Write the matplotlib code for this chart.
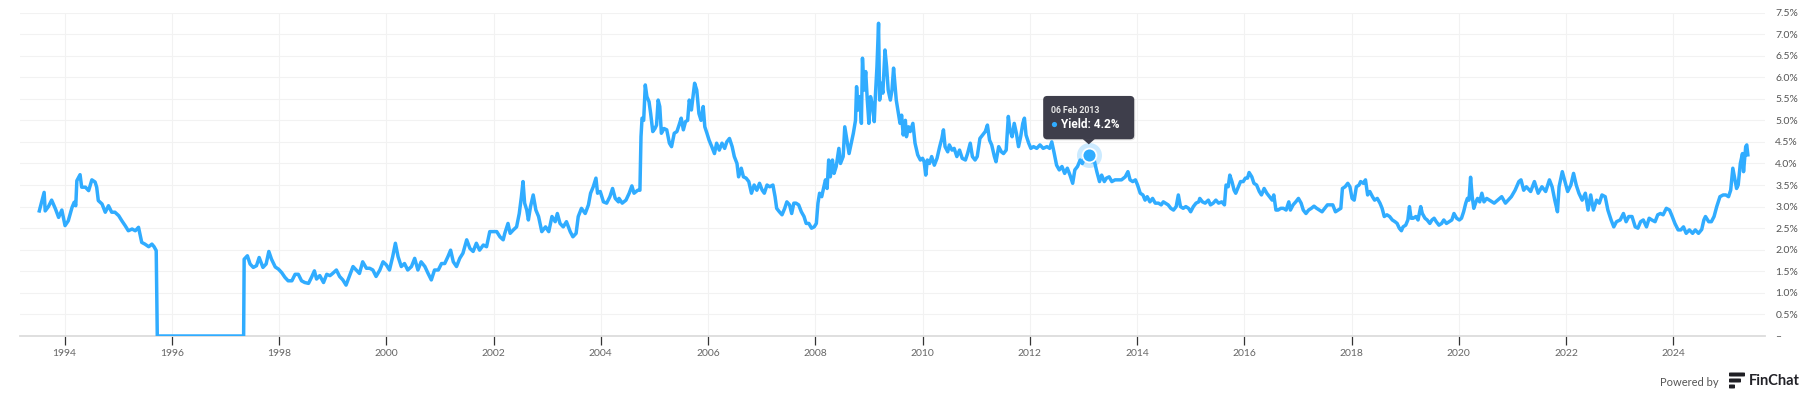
import matplotlib
matplotlib.use("Agg")
import matplotlib.pyplot as plt
import matplotlib.transforms as mtransforms
from matplotlib.patches import Polygon, Circle, FancyBboxPatch
import numpy as np

plt.rcParams["font.family"] = ["Lato", "DejaVu Sans"]

# 수익률 데이터 (연도 소수점, %) - 그림에서 읽은 값
yr_93_98 = [1993.53, 1993.58, 1993.62, 1993.64, 1993.70, 1993.76, 1993.83, 1993.89, 1993.95,
            1994.01, 1994.07, 1994.14, 1994.18, 1994.21, 1994.23, 1994.29, 1994.32, 1994.39,
            1994.45, 1994.51, 1994.57, 1994.60, 1994.63, 1994.70, 1994.76, 1994.82, 1994.88,
            1994.94, 1995.01, 1995.07, 1995.13, 1995.19, 1995.26, 1995.32, 1995.38, 1995.44,
            1995.50, 1995.57, 1995.63, 1995.67, 1995.71, 1995.73, 1997.34, 1997.35, 1997.41,
            1997.46, 1997.52, 1997.58, 1997.63, 1997.70, 1997.76, 1997.81, 1997.86, 1997.93,
            1997.99, 1998.05, 1998.11, 1998.17, 1998.24, 1998.30, 1998.36, 1998.42, 1998.48,
            1998.55, 1998.61, 1998.66, 1998.70, 1998.76, 1998.83, 1998.89, 1998.95]
y_93_98 = [2.90, 3.14, 3.33, 2.90, 3.00, 3.15, 2.95, 2.75, 2.92,
           2.56, 2.67, 2.98, 3.10, 3.02, 3.60, 3.74, 3.45, 3.45,
           3.37, 3.62, 3.57, 3.45, 3.14, 3.06, 2.87, 3.02, 2.87,
           2.87, 2.79, 2.67, 2.56, 2.44, 2.48, 2.44, 2.52, 2.17,
           2.13, 2.07, 2.13, 2.07, 1.98, 0.00, 0.00, 1.78, 1.86,
           1.67, 1.59, 1.63, 1.82, 1.59, 1.67, 1.96, 1.78, 1.60,
           1.55, 1.47, 1.36, 1.28, 1.28, 1.43, 1.43, 1.28, 1.24,
           1.22, 1.37, 1.51, 1.32, 1.40, 1.24, 1.43, 1.40]

yr_99_04 = [1999.00, 1999.07, 1999.13, 1999.19, 1999.25, 1999.31, 1999.38, 1999.44, 1999.50,
            1999.56, 1999.63, 1999.69, 1999.75, 1999.81, 1999.88, 1999.94, 2000.00, 2000.06,
            2000.12, 2000.17, 2000.22, 2000.28, 2000.34, 2000.40, 2000.47, 2000.53, 2000.59,
            2000.65, 2000.72, 2000.78, 2000.84, 2000.90, 2000.97, 2001.03, 2001.09, 2001.15,
            2001.20, 2001.25, 2001.31, 2001.37, 2001.43, 2001.50, 2001.56, 2001.62, 2001.68,
            2001.74, 2001.81, 2001.87, 2001.93, 2001.99, 2002.06, 2002.12, 2002.18, 2002.21,
            2002.27, 2002.31, 2002.37, 2002.43, 2002.48, 2002.52, 2002.55, 2002.58, 2002.62,
            2002.65, 2002.69, 2002.74, 2002.79, 2002.84, 2002.90, 2002.97, 2003.03, 2003.09,
            2003.15, 2003.19, 2003.24, 2003.30, 2003.36, 2003.43, 2003.48, 2003.54, 2003.58,
            2003.64, 2003.71, 2003.77, 2003.81, 2003.86, 2003.91, 2003.94, 2003.99, 2004.05,
            2004.11, 2004.17, 2004.22, 2004.27, 2004.33]
y_99_04 = [1.45, 1.53, 1.38, 1.30, 1.18, 1.38, 1.61, 1.53, 1.45,
           1.72, 1.57, 1.57, 1.53, 1.38, 1.53, 1.72, 1.65, 1.53,
           1.84, 2.15, 1.84, 1.61, 1.68, 1.53, 1.61, 1.80, 1.53,
           1.72, 1.61, 1.45, 1.30, 1.53, 1.53, 1.68, 1.68, 1.84,
           1.99, 1.72, 1.61, 1.80, 1.92, 2.23, 2.03, 1.96, 2.15,
           1.99, 2.11, 2.07, 2.42, 2.42, 2.42, 2.30, 2.23, 2.38,
           2.61, 2.38, 2.46, 2.53, 2.84, 3.23, 3.58, 3.08, 2.92,
           2.69, 3.00, 3.27, 2.92, 2.77, 2.42, 2.53, 2.42, 2.77,
           2.65, 2.84, 2.61, 2.53, 2.65, 2.42, 2.30, 2.38, 2.77,
           2.96, 2.84, 3.04, 3.31, 3.46, 3.66, 3.31, 3.35, 3.11,
           3.08, 3.23, 3.42, 3.19, 3.11]

yr_04_09 = [2004.34, 2004.40, 2004.47, 2004.53, 2004.58, 2004.62, 2004.69, 2004.73, 2004.75,
            2004.77, 2004.80, 2004.83, 2004.86, 2004.90, 2004.93, 2004.97, 2005.01, 2005.04,
            2005.07, 2005.10, 2005.13, 2005.18, 2005.23, 2005.28, 2005.32, 2005.37, 2005.42,
            2005.46, 2005.50, 2005.54, 2005.58, 2005.62, 2005.65, 2005.69, 2005.72, 2005.75,
            2005.79, 2005.83, 2005.87, 2005.91, 2005.94, 2005.98, 2006.02, 2006.07, 2006.12,
            2006.16, 2006.21, 2006.26, 2006.31, 2006.35, 2006.40, 2006.45, 2006.49, 2006.54,
            2006.57, 2006.62, 2006.66, 2006.71, 2006.76, 2006.81, 2006.86, 2006.91, 2006.96,
            2007.01, 2007.05, 2007.10, 2007.15, 2007.21, 2007.25, 2007.28, 2007.33, 2007.38,
            2007.43, 2007.47, 2007.52, 2007.56, 2007.60, 2007.64, 2007.69, 2007.74, 2007.79,
            2007.83, 2007.88, 2007.93, 2007.98, 2008.02, 2008.05, 2008.08, 2008.12, 2008.16,
            2008.19, 2008.22, 2008.25, 2008.28, 2008.32, 2008.35, 2008.39, 2008.44, 2008.47,
            2008.52, 2008.55, 2008.59, 2008.63, 2008.67, 2008.71, 2008.75, 2008.77, 2008.80,
            2008.83, 2008.86, 2008.88, 2008.91, 2008.94, 2008.97, 2009.00, 2009.03, 2009.07,
            2009.10, 2009.12, 2009.15, 2009.18, 2009.20, 2009.23, 2009.26, 2009.30, 2009.33,
            2009.36, 2009.40, 2009.43, 2009.46, 2009.49, 2009.51, 2009.55, 2009.58, 2009.61,
            2009.64, 2009.68, 2009.70, 2009.74]
y_04_09 = [3.19, 3.08, 3.15, 3.31, 3.48, 3.31, 3.38, 3.38, 4.62,
           5.05, 5.00, 5.82, 5.55, 5.43, 5.16, 4.74, 4.81, 4.89,
           5.47, 5.32, 4.70, 4.81, 4.78, 4.47, 4.39, 4.70, 4.74,
           4.89, 5.05, 4.78, 4.97, 5.00, 5.47, 5.24, 5.55, 5.86,
           5.70, 5.16, 5.00, 5.32, 4.85, 4.70, 4.54, 4.39, 4.23,
           4.47, 4.31, 4.47, 4.35, 4.50, 4.58, 4.39, 4.16, 4.00,
           3.69, 3.89, 3.69, 3.66, 3.58, 3.31, 3.50, 3.38, 3.54,
           3.38, 3.31, 3.50, 3.46, 3.50, 3.23, 2.96, 2.88, 2.81,
           2.96, 3.11, 3.04, 2.84, 3.08, 3.08, 3.04, 2.88, 2.77,
           2.61, 2.61, 2.50, 2.53, 2.61, 3.08, 3.31, 3.23, 3.46,
           3.62, 3.42, 4.08, 3.69, 4.08, 3.77, 3.93, 4.35, 4.00,
           4.16, 4.85, 4.54, 4.23, 4.47, 4.70, 5.00, 5.78, 5.24,
           5.55, 4.93, 6.44, 5.70, 6.13, 5.47, 4.93, 5.55, 5.32,
           4.97, 5.55, 6.24, 7.25, 5.47, 5.86, 5.63, 6.63, 6.24,
           5.70, 5.47, 5.70, 6.21, 5.78, 5.47, 5.16, 4.93, 5.12,
           4.66, 5.00, 4.62, 4.85]

yr_10_15 = [2009.77, 2009.82, 2009.86, 2009.91, 2009.96, 2010.00, 2010.03, 2010.06, 2010.09,
            2010.13, 2010.17, 2010.22, 2010.27, 2010.32, 2010.36, 2010.39, 2010.42, 2010.47,
            2010.50, 2010.55, 2010.59, 2010.64, 2010.69, 2010.74, 2010.80, 2010.84, 2010.89,
            2010.93, 2010.98, 2011.02, 2011.07, 2011.12, 2011.17, 2011.21, 2011.25, 2011.29,
            2011.34, 2011.37, 2011.42, 2011.47, 2011.51, 2011.56, 2011.60, 2011.63, 2011.67,
            2011.71, 2011.75, 2011.79, 2011.83, 2011.87, 2011.90, 2011.93, 2011.98, 2012.02,
            2012.07, 2012.13, 2012.19, 2012.25, 2012.32, 2012.37, 2012.41, 2012.45, 2012.50,
            2012.55, 2012.60, 2012.65, 2012.70, 2012.75, 2012.80, 2012.84, 2012.89, 2012.94,
            2012.98, 2013.03, 2013.10, 2013.16, 2013.20, 2013.25, 2013.30, 2013.34, 2013.39,
            2013.43, 2013.48, 2013.53, 2013.59, 2013.65, 2013.71, 2013.78, 2013.83, 2013.87,
            2013.92, 2013.97, 2014.01, 2014.06, 2014.11, 2014.15, 2014.19, 2014.24, 2014.29,
            2014.34, 2014.40, 2014.45, 2014.49, 2014.53, 2014.58, 2014.63, 2014.68, 2014.73,
            2014.77, 2014.81, 2014.86, 2014.91, 2014.96, 2015.00, 2015.05, 2015.10, 2015.15]
y_10_15 = [4.74, 4.93, 4.47, 4.20, 4.08, 4.12, 4.04, 3.73, 4.08,
           4.00, 4.16, 3.96, 4.12, 4.39, 4.58, 4.78, 4.39, 4.27,
           4.43, 4.31, 4.35, 4.16, 4.31, 4.12, 4.08, 4.23, 4.47,
           4.16, 4.08, 4.16, 4.58, 4.66, 4.74, 4.89, 4.54, 4.43,
           4.16, 4.04, 4.39, 4.27, 4.23, 4.31, 5.09, 4.78, 4.62,
           4.93, 4.70, 4.39, 4.62, 4.93, 5.05, 4.66, 4.47, 4.35,
           4.39, 4.35, 4.43, 4.35, 4.39, 4.35, 4.50, 4.27, 3.96,
           3.85, 3.93, 3.77, 3.89, 3.73, 3.54, 3.85, 3.93, 4.08,
           4.00, 4.16, 4.20, 4.04, 4.08, 3.81, 3.58, 3.73, 3.58,
           3.66, 3.69, 3.58, 3.62, 3.62, 3.62, 3.69, 3.81, 3.62,
           3.58, 3.62, 3.50, 3.31, 3.27, 3.15, 3.23, 3.11, 3.19,
           3.08, 3.08, 3.04, 3.11, 3.08, 3.04, 2.96, 2.92, 3.00,
           3.27, 3.00, 2.96, 3.00, 2.96, 2.88, 3.00, 3.08, 3.11]

yr_15_20 = [2015.17, 2015.22, 2015.27, 2015.33, 2015.37, 2015.42, 2015.47, 2015.52, 2015.58,
            2015.63, 2015.66, 2015.70, 2015.73, 2015.77, 2015.81, 2015.84, 2015.89, 2015.93,
            2015.98, 2016.02, 2016.06, 2016.09, 2016.14, 2016.18, 2016.23, 2016.28, 2016.32,
            2016.37, 2016.42, 2016.47, 2016.52, 2016.55, 2016.59, 2016.63, 2016.68, 2016.73,
            2016.78, 2016.83, 2016.86, 2016.91, 2016.96, 2017.01, 2017.06, 2017.10, 2017.15,
            2017.20, 2017.25, 2017.30, 2017.35, 2017.40, 2017.45, 2017.50, 2017.55, 2017.60,
            2017.65, 2017.70, 2017.75, 2017.80, 2017.83, 2017.88, 2017.93, 2017.97, 2018.01,
            2018.05, 2018.09, 2018.14, 2018.17, 2018.22, 2018.26, 2018.30, 2018.34, 2018.39,
            2018.43, 2018.48, 2018.53, 2018.57, 2018.61, 2018.66, 2018.71, 2018.76, 2018.81,
            2018.85, 2018.89, 2018.93, 2018.96, 2019.01, 2019.05, 2019.08, 2019.11, 2019.15,
            2019.20, 2019.24, 2019.29, 2019.32, 2019.37, 2019.41, 2019.46, 2019.50, 2019.54,
            2019.58, 2019.63, 2019.68, 2019.72, 2019.77, 2019.82, 2019.87, 2019.91, 2019.96,
            2020.01, 2020.05, 2020.09, 2020.13, 2020.16, 2020.19, 2020.22, 2020.25, 2020.28,
            2020.32, 2020.35, 2020.39, 2020.43, 2020.47, 2020.52, 2020.57]
y_15_20 = [3.19, 3.11, 3.08, 3.15, 3.04, 3.08, 3.15, 3.08, 3.11,
           3.04, 3.50, 3.46, 3.73, 3.58, 3.38, 3.31, 3.46, 3.58,
           3.58, 3.66, 3.66, 3.79, 3.69, 3.54, 3.50, 3.35, 3.27,
           3.42, 3.31, 3.23, 3.15, 3.27, 2.92, 2.92, 2.96, 2.96,
           2.92, 3.11, 2.92, 3.04, 3.11, 3.19, 3.08, 2.92, 2.84,
           2.92, 2.96, 3.01, 2.96, 2.92, 2.88, 2.96, 3.04, 3.04,
           3.04, 2.88, 2.92, 2.96, 3.42, 3.46, 3.54, 3.46, 3.19,
           3.15, 3.46, 3.50, 3.58, 3.54, 3.62, 3.27, 3.35, 3.23,
           3.15, 3.19, 3.08, 2.96, 2.77, 2.81, 2.77, 2.69, 2.65,
           2.61, 2.50, 2.44, 2.53, 2.57, 2.69, 3.00, 2.73, 2.73,
           2.77, 2.69, 3.00, 2.84, 2.73, 2.69, 2.61, 2.69, 2.73,
           2.65, 2.57, 2.61, 2.69, 2.61, 2.65, 2.69, 2.84, 2.73,
           2.69, 2.73, 2.88, 3.08, 3.19, 3.15, 3.68, 3.23, 2.96,
           3.11, 3.19, 3.11, 3.31, 3.11, 3.19, 3.15]

yr_20_25 = [2020.66, 2020.80, 2020.87, 2020.98, 2021.05, 2021.12, 2021.16, 2021.21, 2021.26,
            2021.34, 2021.41, 2021.48, 2021.55, 2021.62, 2021.69, 2021.74, 2021.79, 2021.84,
            2021.87, 2021.93, 2021.98, 2022.03, 2022.09, 2022.14, 2022.19, 2022.24, 2022.30,
            2022.36, 2022.41, 2022.46, 2022.51, 2022.57, 2022.62, 2022.67, 2022.73, 2022.78,
            2022.84, 2022.89, 2022.94, 2023.01, 2023.07, 2023.12, 2023.17, 2023.23, 2023.29,
            2023.34, 2023.39, 2023.44, 2023.50, 2023.55, 2023.60, 2023.66, 2023.71, 2023.76,
            2023.81, 2023.87, 2023.93, 2023.98, 2024.03, 2024.09, 2024.14, 2024.19, 2024.24,
            2024.30, 2024.36, 2024.41, 2024.47, 2024.53, 2024.57, 2024.60, 2024.66, 2024.71,
            2024.76, 2024.81, 2024.87, 2024.93, 2024.98, 2025.03, 2025.07, 2025.11, 2025.14,
            2025.18, 2025.21, 2025.25, 2025.29, 2025.31, 2025.35, 2025.37, 2025.39]
y_20_25 = [3.08, 3.23, 3.08, 3.23, 3.38, 3.58, 3.62, 3.38, 3.46,
           3.35, 3.58, 3.31, 3.46, 3.35, 3.62, 3.46, 3.15, 2.88,
           3.46, 3.81, 3.58, 3.35, 3.50, 3.77, 3.50, 3.31, 3.15,
           3.31, 2.92, 3.27, 2.92, 3.15, 3.08, 3.27, 3.23, 2.92,
           2.69, 2.53, 2.65, 2.69, 2.84, 2.65, 2.77, 2.77, 2.53,
           2.50, 2.65, 2.69, 2.53, 2.73, 2.69, 2.65, 2.81, 2.84,
           2.81, 2.96, 2.92, 2.77, 2.61, 2.46, 2.46, 2.53, 2.38,
           2.46, 2.38, 2.46, 2.38, 2.47, 2.69, 2.77, 2.65, 2.65,
           2.77, 3.00, 3.23, 3.27, 3.27, 3.23, 3.38, 3.89, 3.69,
           3.42, 3.50, 4.00, 4.23, 3.81, 4.39, 4.43, 4.20]

# 툴팁 포인트
tip_year = 2013.10
tip_value = 4.2
tip_date = "06 Feb 2013"

x_ticks = list(range(1994, 2025, 2))
y_ticks = [0, 0.5, 1.0, 1.5, 2.0, 2.5, 3.0, 3.5, 4.0, 4.5, 5.0, 5.5, 6.0, 6.5, 7.0, 7.5]

years = np.array(yr_93_98 + yr_99_04 + yr_04_09 + yr_10_15 + yr_15_20 + yr_20_25)
yields = np.array(y_93_98 + y_99_04 + y_04_09 + y_10_15 + y_15_20 + y_20_25)

line_color = "#30acff"

fig = plt.figure(figsize=(18.09, 3.97), dpi=100)
ax = fig.add_axes([20 / 1809, 1 - 336 / 397, 1745 / 1809, (336 - 12.5) / 397])

ax.plot(years, yields, color=line_color, lw=2.5, solid_joinstyle="round", zorder=3)

ax.set_xlim(1993.17, 2025.71)
ax.set_ylim(0, 7.5)

# 축 스타일
for s in ["top", "left", "right"]:
    ax.spines[s].set_visible(False)
ax.spines["bottom"].set_color("#dcdcdc")
ax.spines["bottom"].set_linewidth(1.3)

ax.set_xticks(x_ticks)
ax.set_xticklabels([str(y) for y in x_ticks])
ax.tick_params(axis="x", length=6.5, width=0.9, color="#333333", pad=2.5,
               labelsize=7.5, labelcolor="#666666")

ax.yaxis.tick_right()
ax.set_yticks(y_ticks)
ax.set_yticklabels(["–"] + [f"{v:.1f}%" for v in y_ticks[1:]])
ax.tick_params(axis="y", length=0, pad=7.5, labelsize=7.5, labelcolor="#555555")

ax.grid(True, color="#f2f2f2", lw=0.8, zorder=0)
ax.set_axisbelow(True)

# 툴팁 마커
ax.plot(tip_year, tip_value, "o", ms=18, color=line_color, alpha=0.25, mec="none", zorder=4)
ax.plot(tip_year, tip_value, "o", ms=10, color=line_color, mec="white", mew=1.3, zorder=5)

# 툴팁 박스 (포인트 기준 픽셀 오프셋)
px, py = ax.transData.transform((tip_year, tip_value))
tr = mtransforms.Affine2D().translate(px, py)
shadow = FancyBboxPatch((-44.5, 14.5), 91, 43.5, boxstyle="round,pad=0,rounding_size=4",
                        fc="black", ec="none", alpha=0.12, transform=tr, zorder=6)
box = FancyBboxPatch((-45.6, 15.6), 91, 43.3, boxstyle="round,pad=0,rounding_size=4",
                     fc="#3e3e4b", ec="none", transform=tr, zorder=7)
arrow = Polygon([(-6, 15.8), (6, 15.8), (0, 10.5)], closed=True, fc="#3e3e4b",
                ec="none", transform=tr, zorder=7)
fig.add_artist(shadow)
fig.add_artist(box)
fig.add_artist(arrow)
dot = Circle((-34.3, 30.3), 2.6, fc=line_color, ec="none", transform=tr, zorder=8)
fig.add_artist(dot)
fig.text(-37.5, 44.0, tip_date, transform=tr, color="#e6e6e6", fontsize=6.3,
         fontweight="bold", family=["Roboto", "DejaVu Sans"], va="center", ha="left", zorder=8)
fig.text(-27.5, 30.3, f"Yield: {tip_value}%", transform=tr, color="white", fontsize=8.5,
         fontweight="bold", family=["Roboto", "DejaVu Sans"], va="center", ha="left", zorder=8)

# Powered by FinChat
fig.text(1660 / 1809, 1 - 382 / 397, "Powered by", color="#555555", fontsize=8,
         va="center", ha="left")
for i, (w, yy) in enumerate([(16, 374), (12, 380), (6, 386)]):
    fig.add_artist(FancyBboxPatch((1729 / 1809, 1 - (yy + 2.5) / 397), w / 1809, 4 / 397,
                                  boxstyle="round,pad=0,rounding_size=0.001",
                                  fc="#1f1f24", ec="none", transform=fig.transFigure))
fig.text(1749 / 1809, 1 - 381 / 397, "FinChat", color="#222228", fontsize=10.5,
         fontweight="bold", va="center", ha="left")

fig.savefig("out.png", dpi=100, facecolor="white")
